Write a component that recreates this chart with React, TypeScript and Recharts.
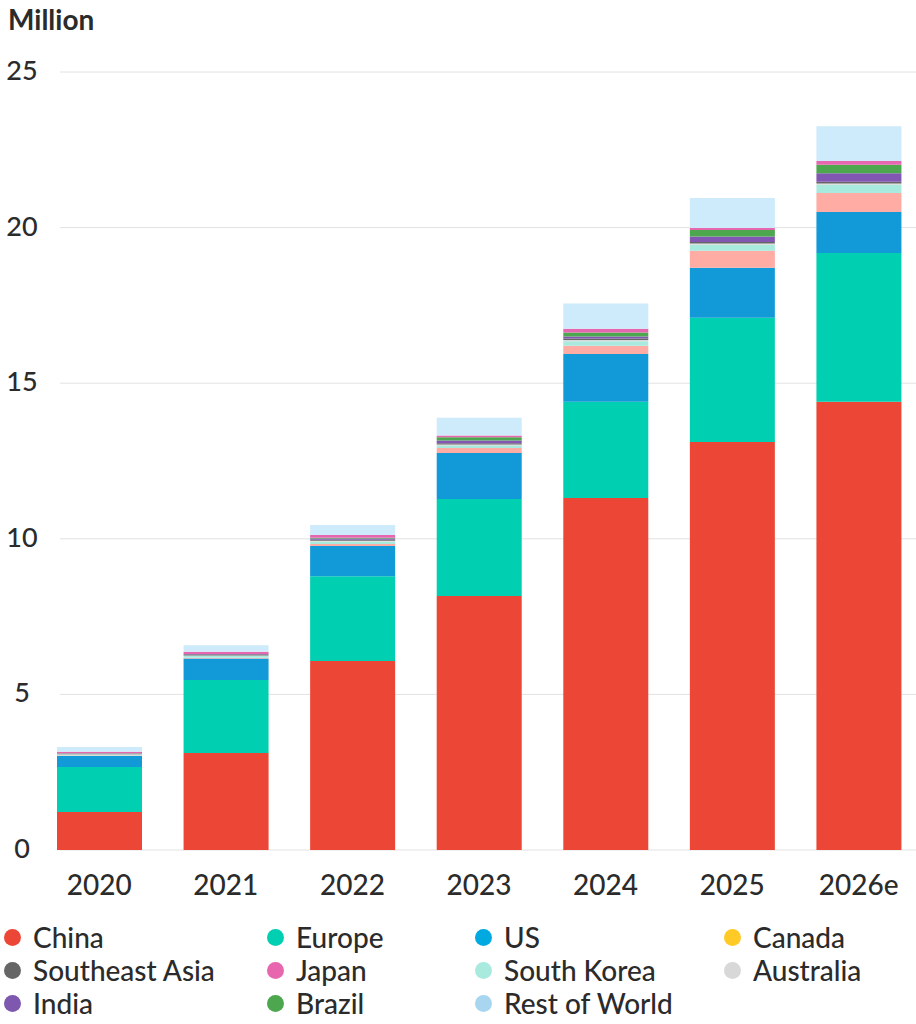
import React from "react";
import { BarChart, Bar, XAxis, YAxis, CartesianGrid, Legend } from "recharts";

const years = ["2020", "2021", "2022", "2023", "2024", "2025", "2026e"];
const china = [1.22, 3.12, 6.07, 8.16, 11.31, 13.11, 14.4];
const europe = [1.45, 2.34, 2.73, 3.12, 3.09, 3.99, 4.78];
const us = [0.35, 0.69, 0.97, 1.48, 1.54, 1.61, 1.32];
const canada = [0.02, 0.03, 0.06, 0.16, 0.26, 0.55, 0.61];
const southKorea = [0.03, 0.05, 0.08, 0.08, 0.15, 0.19, 0.27];
const australia = [0.01, 0.02, 0.03, 0.03, 0.04, 0.04, 0.04];
const southeastAsia = [0.01, 0.02, 0.03, 0.04, 0.05, 0.05, 0.05];
const india = [0.01, 0.02, 0.04, 0.09, 0.06, 0.17, 0.28];
const brazil = [0.01, 0.01, 0.02, 0.1, 0.13, 0.21, 0.27];
const japan = [0.05, 0.07, 0.09, 0.06, 0.12, 0.07, 0.12];
const restOfWorld = [0.15, 0.21, 0.32, 0.57, 0.81, 0.96, 1.12];
const yTicks = [0, 5, 10, 15, 20, 25];

const seriesNames = [
  "China", "Europe", "US", "Canada", "South Korea", "Australia",
  "Southeast Asia", "India", "Brazil", "Japan", "Rest of World",
];
const seriesValues = [
  china, europe, us, canada, southKorea, australia,
  southeastAsia, india, brazil, japan, restOfWorld,
];
const barColors = [
  "#EC4637", "#00CFB1", "#1299D8", "#FFACA4", "#A9EADF", "#D8D8D8",
  "#666666", "#8257B3", "#4CA74E", "#E766B0", "#CDEBFA",
];

const legendNames = [
  "China", "Europe", "US", "Canada",
  "Southeast Asia", "Japan", "South Korea", "Australia",
  "India", "Brazil", "Rest of World",
];
const legendColors = [
  "#EC4637", "#00CFB1", "#00A9E0", "#FFC926",
  "#666666", "#E866AE", "#A9EADF", "#D8D8D8",
  "#7E57AE", "#4CA74E", "#A8D5F0",
];

const data = years.map((y, i) => {
  const row: Record<string, number | string> = { year: y };
  seriesNames.forEach((n, j) => {
    row[n] = seriesValues[j][i];
  });
  return row;
});

const FONT = "Lato, 'Open Sans', sans-serif";
const TEXT = "#2b2b2b";
const legendColX = [4, 267, 475, 724];

const YTick = (props: any) => {
  const { y, payload } = props;
  return (
    <text x={22} y={y} dy={8} textAnchor="middle" fontSize={27} fontWeight={500} fill={TEXT} fontFamily={FONT}>
      {payload.value}
    </text>
  );
};

const XTick = (props: any) => {
  const { x, y, payload } = props;
  return (
    <text x={x} y={y} dy={37} textAnchor="middle" fontSize={28} fontWeight={500} fill={TEXT} fontFamily={FONT}>
      {payload.value}
    </text>
  );
};

const LegendContent = () => (
  <div style={{ position: "relative", width: 916, height: 110, fontFamily: FONT }}>
    {legendNames.map((n, i) => {
      const col = i % 4;
      const row = Math.floor(i / 4);
      return (
        <div
          key={n}
          style={{
            position: "absolute",
            left: legendColX[col],
            top: row * 33,
            display: "flex",
            alignItems: "center",
            height: 30,
            whiteSpace: "nowrap",
          }}
        >
          <span
            style={{
              display: "inline-block",
              width: 17,
              height: 17,
              borderRadius: "50%",
              background: legendColors[i],
              marginRight: 12,
            }}
          />
          <span style={{ fontSize: 28, fontWeight: 500, color: TEXT }}>{n}</span>
        </div>
      );
    })}
  </div>
);

export default function App() {
  return (
    <div
      style={{
        position: "absolute",
        left: 0,
        top: 0,
        width: 916,
        height: 1024,
        overflow: "hidden",
        background: "#fff",
      }}
    >
      <div
        style={{
          position: "absolute",
          left: 8,
          top: 2,
          fontFamily: FONT,
          fontWeight: 700,
          fontSize: 28,
          color: TEXT,
        }}
      >
        Million
      </div>
      <BarChart
        width={922}
        height={1024}
        data={data}
        margin={{ top: 72, right: 0, bottom: 4, left: 0 }}
      >
        <CartesianGrid vertical={false} stroke="#e2e2e2" x={60} width={862} />
        <XAxis
          dataKey="year"
          axisLine={false}
          tickLine={false}
          height={60}
          tick={<XTick />}
          interval={0}
        />
        <YAxis
          width={36}
          domain={[0, 25]}
          ticks={yTicks}
          axisLine={false}
          tickLine={false}
          tick={<YTick />}
        />
        {seriesNames.map((n, j) => (
          <Bar
            key={n}
            dataKey={n}
            stackId="a"
            fill={barColors[j]}
            barSize={85}
            isAnimationActive={false}
          />
        ))}
        <Legend
          content={<LegendContent />}
          wrapperStyle={{ left: 0, top: 922, width: 916, height: 110 }}
        />
      </BarChart>
    </div>
  );
}
